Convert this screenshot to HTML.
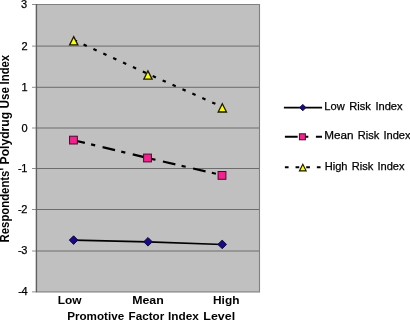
<!DOCTYPE html>
<html><head><meta charset="utf-8"><style>
html,body{margin:0;padding:0;background:#fff;}
svg{display:block;}
text{font-family:"Liberation Sans",sans-serif;fill:#000;}
</style></head><body>
<svg width="410" height="320" viewBox="0 0 410 320">
<rect width="410" height="320" fill="#fff"/>
<rect x="36.4" y="4.5" width="223.100" height="287.700" fill="#c0c0c0"/>
<g stroke="#909090" stroke-width="1">
<line x1="32" x2="36.4" y1="4.500" y2="4.500"/>
<line x1="32" x2="36.4" y1="46.100" y2="46.100"/>
<line x1="32" x2="36.4" y1="87.300" y2="87.300"/>
<line x1="32" x2="36.4" y1="128" y2="128"/>
<line x1="32" x2="36.4" y1="168.500" y2="168.500"/>
<line x1="32" x2="36.4" y1="209.500" y2="209.500"/>
<line x1="32" x2="36.4" y1="251" y2="251"/>
<line x1="32" x2="36.4" y1="291.900" y2="291.900"/>
</g>
<g stroke="#6c6c6c" stroke-width="1">
<line x1="36.4" x2="259.5" y1="46.100" y2="46.100"/>
<line x1="36.4" x2="259.5" y1="87.300" y2="87.300"/>
<line x1="36.4" x2="259.5" y1="128" y2="128"/>
<line x1="36.4" x2="259.5" y1="168.500" y2="168.500"/>
<line x1="36.4" x2="259.5" y1="209.500" y2="209.500"/>
<line x1="36.4" x2="259.500" y1="251" y2="251"/>
</g>
<g stroke="#808080" stroke-width="1.1" fill="none">
<polyline points="36.4,4.500 259.500,4.500 259.500,292.300"/>
<line x1="36.4" x2="260" y1="291.900" y2="291.900" stroke="#8c8c8c" stroke-width="1.2"/>
</g>
<line x1="36.4" x2="36.4" y1="4" y2="292.200" stroke="#606060" stroke-width="1.4"/>
<!-- series -->
<polyline points="73.5,40 148,73.900 222.300,106.900" fill="none" stroke="#000" stroke-width="2.2" stroke-dasharray="3.5 7.35" stroke-dashoffset="-0.2"/>
<polyline points="73.5,140.200 147.700,158 222.200,175.200" fill="none" stroke="#000" stroke-width="2.2" stroke-dasharray="12.8 6.4 4.2 7.6" stroke-dashoffset="1.1"/>
<polyline points="73.5,240.200 148,241.900 222.300,244.500" fill="none" stroke="#000" stroke-width="1.7"/>
<g fill="#ffff00" stroke="#1a1a00" stroke-width="1.3">
<polygon points="73.700,36.600 77.900,44.900 69.600,44.900"/>
<polygon points="147.900,70.900 152.100,79.200 143.800,79.200"/>
<polygon points="222.300,103.700 226.500,112 218.200,112"/>
</g>
<g fill="#f4218f" stroke="#4a0a2c" stroke-width="1">
<rect x="69.550" y="136.200" width="7.800" height="7.800"/>
<rect x="143.600" y="154.100" width="7.800" height="7.800"/>
<rect x="218.100" y="171.500" width="7.800" height="7.800"/>
</g>
<g fill="#1a0a80" stroke="#0a0a40" stroke-width="1">
<polygon points="73.6,235.80 77.90,240.1 73.6,244.40 69.30,240.1"/>
<polygon points="148,237.50 152.30,241.8 148,246.10 143.70,241.8"/>
<polygon points="222.2,240.10 226.50,244.4 222.2,248.70 217.90,244.4"/>
</g>
<!-- y labels -->
<g font-size="11" text-anchor="end" stroke="#000" stroke-width="0.25">
<text x="27.200" y="8">3</text>
<text x="27.500" y="49.500">2</text>
<text x="27.700" y="90.500">1</text>
<text x="27.500" y="131.700">0</text>
<g letter-spacing="-0.4">
<text x="27" y="172">-1</text>
<text x="27" y="213.200">-2</text>
<text x="27" y="254">-3</text>
<text x="27.200" y="295.300">-4</text>
</g>
</g>
<g font-size="11.5" font-weight="bold">
<text x="57.800" y="304.100" textLength="23.800" lengthAdjust="spacingAndGlyphs">Low</text>
<text x="132.200" y="304.100" textLength="31.600" lengthAdjust="spacingAndGlyphs">Mean</text>
<text x="213" y="304.100" textLength="26.400" lengthAdjust="spacingAndGlyphs">High</text>
<text x="67.200" y="319.600" textLength="57" lengthAdjust="spacingAndGlyphs">Promotive</text>
<text x="128.600" y="319.600" textLength="35.600" lengthAdjust="spacingAndGlyphs">Factor</text>
<text x="168" y="319.600" textLength="30.800" lengthAdjust="spacingAndGlyphs">Index</text>
<text x="203.300" y="319.600" textLength="31.800" lengthAdjust="spacingAndGlyphs">Level</text>
<g font-size="12" transform="translate(9,0)">
<text transform="translate(0,242.400) rotate(-90)" textLength="74.500" lengthAdjust="spacingAndGlyphs">Respondents'</text>
<text transform="translate(0,164.400) rotate(-90)" textLength="52.500" lengthAdjust="spacingAndGlyphs">Polydrug</text>
<text transform="translate(0,108.500) rotate(-90)" textLength="21.400" lengthAdjust="spacingAndGlyphs">Use</text>
<text transform="translate(0,84.400) rotate(-90)" textLength="29.500" lengthAdjust="spacingAndGlyphs">Index</text>
</g>
</g>
<!-- legend -->
<line x1="283.900" x2="322.100" y1="107.600" y2="107.600" stroke="#000" stroke-width="1.6"/>
<polygon points="302.800,104.400 305.800,107.600 302.800,110.800 299.800,107.600" fill="#1a0a80" stroke="#0a0a40" stroke-width="1"/>
<line x1="284.900" x2="322" y1="136.800" y2="136.800" stroke="#000" stroke-width="2" stroke-dasharray="12.8 6.4 4.2 7.6"/>
<rect x="299.400" y="133.800" width="6" height="6" fill="#f4218f" stroke="#4a0a2c" stroke-width="1"/>
<line x1="284.900" x2="322" y1="167.200" y2="167.200" stroke="#000" stroke-width="2" stroke-dasharray="3.7 6.95"/>
<polygon points="302.800,164.300 306.200,170.900 299.400,170.900" fill="#ffff00" stroke="#1a1a00" stroke-width="1.1"/>
<g font-size="11.1" word-spacing="1.1" stroke="#000" stroke-width="0.25">
<text x="324.300" y="110" word-spacing="1.5">Low Risk Index</text>
<text x="324.300" y="139.400" textLength="29.300" lengthAdjust="spacingAndGlyphs">Mean</text>
<text x="357.700" y="139.400">Risk Index</text>
<text x="324.700" y="169.600">High Risk Index</text>
</g>
</svg>
</body></html>
